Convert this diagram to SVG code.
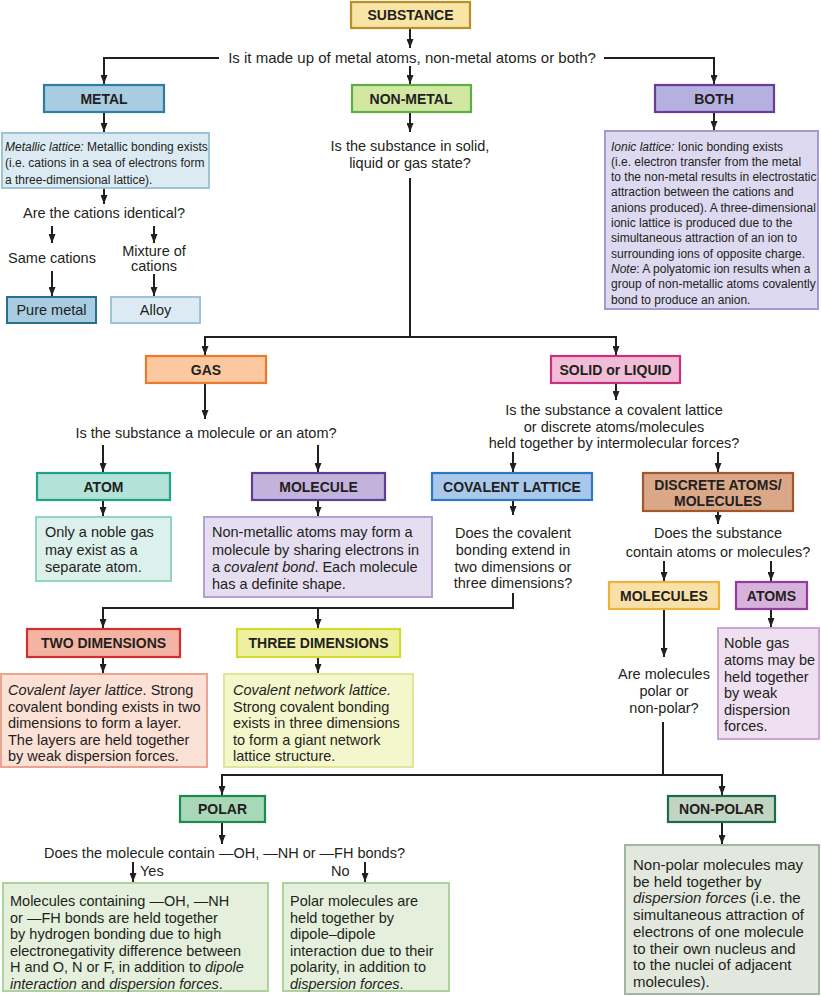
<svg xmlns="http://www.w3.org/2000/svg" width="821" height="996" viewBox="0 0 821 996">
<defs>
<marker id="ah" markerUnits="userSpaceOnUse" markerWidth="9" markerHeight="7" refX="9" refY="3.5" orient="auto">
<path d="M0,0 L9,3.5 L0,7 z" fill="#231f20"/>
</marker>
<style>
text{font-family:"Liberation Sans",Arial,sans-serif;fill:#231f20}
.h{font-size:14px;font-weight:bold;text-anchor:middle}
.q{font-size:14.5px;text-anchor:middle}
.t{font-size:14.5px}
.s{font-size:12px}
.c{text-anchor:middle}
.i{font-style:italic}
.hd{stroke-width:2.2}
.bx{stroke-width:2}
#connectors path{fill:none;stroke:#231f20;stroke-width:2;marker-end:url(#ah)}
#connectors path.nm{marker-end:none}
</style>
</defs>
<rect width="821" height="996" fill="#ffffff"/>

<g id="connectors">
<path d="M410,28 V48"/>
<path d="M219,58 H104 V84"/>
<path d="M604,58 H714 V84"/>
<path d="M410,66 V84"/>
<path d="M104,112 V132"/>
<path d="M104,188 V204"/>
<path d="M52,226 V243"/>
<path d="M154,226 V243"/>
<path d="M52,271 V296"/>
<path d="M154,274 V296"/>
<path d="M410,112 V132"/>
<path d="M410,178 V337 H205 V355"/>
<path d="M410,337 H616 V355"/>
<path d="M714,112 V130"/>
<path d="M205,383 V419"/>
<path d="M103,445 V472"/>
<path d="M318,445 V472"/>
<path d="M103,500 V516"/>
<path d="M318,500 V516"/>
<path d="M616,383 V400"/>
<path d="M513,452 V472"/>
<path d="M718,452 V472"/>
<path d="M513,500 V515"/>
<path d="M718,511 V524"/>
<path d="M513,593 V608 H103 V628"/>
<path d="M318,608 V628"/>
<path d="M664,561 V581"/>
<path d="M771,561 V581"/>
<path d="M103,657 V673"/>
<path d="M318,657 V673"/>
<path d="M664,609 V657"/>
<path d="M771,609 V627"/>
<path d="M663,722 V775 H222 V795"/>
<path d="M663,775 H722 V795"/>
<path d="M222,822 V844"/>
<path d="M722,822 V844"/>
<path d="M133,862 V882"/>
<path d="M365,862 V882"/>
</g>

<g id="substance">
<rect class="hd" x="351" y="2" width="119" height="26" fill="#f8e4a4" stroke="#b8902a"/>
<text class="h" x="410.5" y="20">SUBSTANCE</text>
</g>
<g id="q-made-of">
<text class="q" x="412" y="63" style="font-size:15px">Is it made up of metal atoms, non-metal atoms or both?</text>
</g>

<g id="metal">
<rect class="hd" x="44" y="85" width="120" height="27" fill="#a8cce0" stroke="#2c7ca4"/>
<text class="h" x="104" y="103.5">METAL</text>
</g>
<g id="non-metal">
<rect class="hd" x="352" y="85" width="119" height="27" fill="#d2e8a2" stroke="#5cae46"/>
<text class="h" x="411" y="103.5">NON-METAL</text>
</g>
<g id="both">
<rect class="hd" x="655" y="85" width="119" height="27" fill="#b4b0e0" stroke="#6a3c98"/>
<text class="h" x="714" y="103.5">BOTH</text>
</g>

<g id="metallic-lattice">
<rect class="bx" x="2" y="133" width="207" height="55" fill="#dcebf3" stroke="#9fc3d7"/>
<text class="s" x="5" y="150.5"><tspan class="i">Metallic lattice:</tspan> Metallic bonding exists</text>
<text class="s" x="5" y="167">(i.e. cations in a sea of electrons form</text>
<text class="s" x="5" y="183.5">a three-dimensional lattice).</text>
</g>
<g id="q-cations">
<text class="q" x="104" y="218">Are the cations identical?</text>
<text class="q" x="52" y="263">Same cations</text>
<text class="q" x="154" y="256">Mixture of</text>
<text class="q" x="154" y="271">cations</text>
</g>
<g id="pure-metal">
<rect class="bx" x="7" y="297" width="89" height="26" fill="#a8cce0" stroke="#2a6e8e"/>
<text class="q" x="51.5" y="315">Pure metal</text>
</g>
<g id="alloy">
<rect class="bx" x="111" y="297" width="89" height="26" fill="#dcebf3" stroke="#9fc3d7"/>
<text class="q" x="155.5" y="315">Alloy</text>
</g>

<g id="q-state">
<text class="q" x="410" y="151">Is the substance in solid,</text>
<text class="q" x="410" y="168">liquid or gas state?</text>
</g>

<g id="ionic-lattice">
<rect class="bx" x="605" y="131" width="213" height="178" fill="#ddd9f0" stroke="#a699cf"/>
<text class="s" x="611" y="150.5"><tspan class="i">Ionic lattice:</tspan> Ionic bonding exists</text>
<text class="s" x="611" y="165.8">(i.e. electron transfer from the metal</text>
<text class="s" x="611" y="181.1">to the non-metal results in electrostatic</text>
<text class="s" x="611" y="196.4">attraction between the cations and</text>
<text class="s" x="611" y="211.7">anions produced). A three-dimensional</text>
<text class="s" x="611" y="227">ionic lattice is produced due to the</text>
<text class="s" x="611" y="242.3">simultaneous attraction of an ion to</text>
<text class="s" x="611" y="257.6">surrounding ions of opposite charge.</text>
<text class="s" x="611" y="272.9"><tspan class="i">Note</tspan>: A polyatomic ion results when a</text>
<text class="s" x="611" y="288.2">group of non-metallic atoms covalently</text>
<text class="s" x="611" y="303.5">bond to produce an anion.</text>
</g>

<g id="gas">
<rect class="hd" x="146" y="356" width="120" height="27" fill="#fcc8a0" stroke="#ec7a2c"/>
<text class="h" x="206" y="374.5">GAS</text>
</g>
<g id="solid-liquid">
<rect class="hd" x="551" y="356" width="129" height="27" fill="#f0bcd6" stroke="#c83080"/>
<text class="h" x="615.5" y="374.5">SOLID or LIQUID</text>
</g>

<g id="q-molecule-atom">
<text class="q" x="206" y="438">Is the substance a molecule or an atom?</text>
</g>
<g id="q-lattice-discrete">
<text class="q" x="614" y="415">Is the substance a covalent lattice</text>
<text class="q" x="614" y="432">or discrete atoms/molecules</text>
<text class="q" x="614" y="448">held together by intermolecular forces?</text>
</g>

<g id="atom">
<rect class="hd" x="37" y="473" width="133" height="27" fill="#b2e2d8" stroke="#1ea48e"/>
<text class="h" x="103.5" y="491.5">ATOM</text>
</g>
<g id="atom-desc">
<rect class="bx" x="36" y="517" width="135" height="64" fill="#dcf0ec" stroke="#92d4c6"/>
<text class="t" x="45" y="537">Only a noble gas</text>
<text class="t" x="45" y="554.5">may exist as a</text>
<text class="t" x="45" y="572">separate atom.</text>
</g>
<g id="molecule">
<rect class="hd" x="252" y="473" width="133" height="27" fill="#c2b2dc" stroke="#5e3e96"/>
<text class="h" x="318.5" y="491.5">MOLECULE</text>
</g>
<g id="molecule-desc">
<rect class="bx" x="204" y="517" width="228" height="80" fill="#e4def0" stroke="#b2a2d2"/>
<text class="t" x="212" y="537">Non-metallic atoms may form a</text>
<text class="t" x="212" y="554.5">molecule by sharing electrons in</text>
<text class="t" x="212" y="571.5">a <tspan class="i">covalent bond</tspan>. Each molecule</text>
<text class="t" x="212" y="588.5">has a definite shape.</text>
</g>

<g id="covalent-lattice">
<rect class="hd" x="432" y="473" width="160" height="27" fill="#a8c8ec" stroke="#2f78c0"/>
<text class="h" x="512" y="491.5">COVALENT LATTICE</text>
</g>
<g id="q-dimensions">
<text class="q" x="513" y="538">Does the covalent</text>
<text class="q" x="513" y="555">bonding extend in</text>
<text class="q" x="513" y="572">two dimensions or</text>
<text class="q" x="513" y="588">three dimensions?</text>
</g>

<g id="discrete">
<rect class="hd" x="643" y="473" width="150" height="38" fill="#daa888" stroke="#a0582c"/>
<text class="h" x="718" y="490">DISCRETE ATOMS/</text>
<text class="h" x="718" y="506">MOLECULES</text>
</g>
<g id="q-atoms-molecules">
<text class="q" x="718" y="538">Does the substance</text>
<text class="q" x="718" y="557">contain atoms or molecules?</text>
</g>
<g id="molecules">
<rect class="hd" x="609" y="582" width="110" height="27" fill="#f8e0a8" stroke="#ecb23a"/>
<text class="h" x="664" y="600.5">MOLECULES</text>
</g>
<g id="atoms">
<rect class="hd" x="736" y="582" width="71" height="27" fill="#d6b2dc" stroke="#953a9e"/>
<text class="h" x="771.5" y="600.5">ATOMS</text>
</g>
<g id="atoms-desc">
<rect class="bx" x="718" y="628" width="101" height="111" fill="#eee0f0" stroke="#c9a6d6"/>
<text class="t" x="724" y="648">Noble gas</text>
<text class="t" x="724" y="665">atoms may be</text>
<text class="t" x="724" y="681.5">held together</text>
<text class="t" x="724" y="698">by weak</text>
<text class="t" x="724" y="714.5">dispersion</text>
<text class="t" x="724" y="731">forces.</text>
</g>
<g id="q-polar">
<text class="q" x="664" y="679">Are molecules</text>
<text class="q" x="664" y="696">polar or</text>
<text class="q" x="664" y="713">non-polar?</text>
</g>

<g id="two-dimensions">
<rect class="hd" x="27" y="629" width="153" height="28" fill="#f4b4a4" stroke="#d03030"/>
<text class="h" x="103.5" y="648">TWO DIMENSIONS</text>
</g>
<g id="two-desc">
<rect class="bx" x="1" y="674" width="206" height="93" fill="#fbe0d6" stroke="#eca48e"/>
<text class="t" x="8" y="695"><tspan class="i">Covalent layer lattice</tspan>. Strong</text>
<text class="t" x="8" y="711.5">covalent bonding exists in two</text>
<text class="t" x="8" y="728">dimensions to form a layer.</text>
<text class="t" x="8" y="744.5">The layers are held together</text>
<text class="t" x="8" y="761">by weak dispersion forces.</text>
</g>
<g id="three-dimensions">
<rect class="hd" x="237" y="629" width="163" height="28" fill="#eef0a0" stroke="#d2dc30"/>
<text class="h" x="318.5" y="648">THREE DIMENSIONS</text>
</g>
<g id="three-desc">
<rect class="bx" x="224" y="674" width="189" height="93" fill="#f4f6cc" stroke="#dfe69a"/>
<text class="t" x="233" y="695"><tspan class="i">Covalent network lattice.</tspan></text>
<text class="t" x="233" y="711.5">Strong covalent bonding</text>
<text class="t" x="233" y="728">exists in three dimensions</text>
<text class="t" x="233" y="744.5">to form a giant network</text>
<text class="t" x="233" y="761">lattice structure.</text>
</g>

<g id="polar">
<rect class="hd" x="180" y="796" width="85" height="26" fill="#a8d8b8" stroke="#1a8c4c"/>
<text class="h" x="222.5" y="814">POLAR</text>
</g>
<g id="q-hbond">
<text class="q" x="224.5" y="858">Does the molecule contain —OH, —NH or —FH bonds?</text>
<text class="t" x="140" y="876">Yes</text>
<text class="t" x="331" y="876">No</text>
</g>
<g id="hbond-desc">
<rect class="bx" x="3" y="883" width="265" height="108" fill="#e4f0dc" stroke="#acd49a"/>
<text class="t" x="10" y="906">Molecules containing —OH, —NH</text>
<text class="t" x="10" y="922.5">or —FH bonds are held together</text>
<text class="t" x="10" y="939">by hydrogen bonding due to high</text>
<text class="t" x="10" y="955.5">electronegativity difference between</text>
<text class="t" x="10" y="972">H and O, N or F, in addition to <tspan class="i">dipole</tspan></text>
<text class="t" x="10" y="988.5"><tspan class="i">interaction</tspan> and <tspan class="i">dispersion forces</tspan>.</text>
</g>
<g id="dipole-desc">
<rect class="bx" x="283" y="883" width="166" height="108" fill="#e4f0dc" stroke="#acd49a"/>
<text class="t" x="290" y="906">Polar molecules are</text>
<text class="t" x="290" y="922.5">held together by</text>
<text class="t" x="290" y="939">dipole–dipole</text>
<text class="t" x="290" y="955.5">interaction due to their</text>
<text class="t" x="290" y="972">polarity, in addition to</text>
<text class="t" x="290" y="988.5"><tspan class="i">dispersion forces</tspan>.</text>
</g>

<g id="non-polar">
<rect class="hd" x="668" y="796" width="107" height="26" fill="#c2d4c2" stroke="#1c6c4c"/>
<text class="h" x="721.5" y="814">NON-POLAR</text>
</g>
<g id="non-polar-desc">
<rect class="bx" x="625" y="845" width="194" height="149" fill="#e2e8de" stroke="#a2b4a2"/>
<text class="t" x="633" y="870" style="font-size:15px">Non-polar molecules may</text>
<text class="t" x="633" y="886.7" style="font-size:15px">be held together by</text>
<text class="t" x="633" y="903.4" style="font-size:15px"><tspan class="i">dispersion forces</tspan> (i.e. the</text>
<text class="t" x="633" y="920.1" style="font-size:15px">simultaneous attraction of</text>
<text class="t" x="633" y="936.8" style="font-size:15px">electrons of one molecule</text>
<text class="t" x="633" y="953.5" style="font-size:15px">to their own nucleus and</text>
<text class="t" x="633" y="970.2" style="font-size:15px">to the nuclei of adjacent</text>
<text class="t" x="633" y="986.9" style="font-size:15px">molecules).</text>
</g>
</svg>
